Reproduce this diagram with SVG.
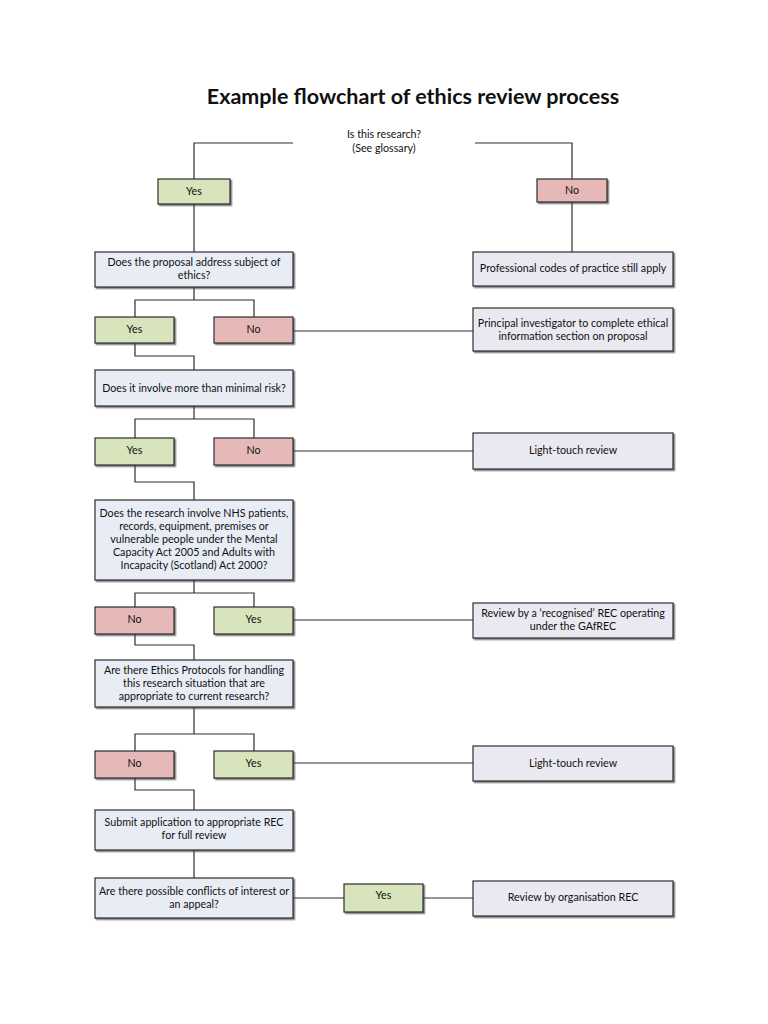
<svg xmlns="http://www.w3.org/2000/svg" width="768" height="1024" viewBox="0 0 768 1024">
<defs>
<filter id="sh" x="-10%" y="-10%" width="130%" height="150%">
<feDropShadow dx="1.5" dy="1.5" stdDeviation="0.6" flood-color="#444" flood-opacity="0.7"/>
</filter>
<style>
rect{stroke:#2e2e2e;stroke-width:1.2;filter:url(#sh)}
.g{fill:#d8e4bc}
.r{fill:#e6b8b7}
.q{fill:#e8edf5}
.o{fill:#eae8f0}
text{font-family:Lato,"Open Sans","Liberation Sans",sans-serif;font-size:10.7px;fill:#111;text-anchor:middle}
.title{font-size:21.5px;font-weight:bold}
#connectors path{fill:none;stroke:#2e2e2e;stroke-width:1.2}
</style>
</defs>
<rect width="768" height="1024" fill="#fff" style="stroke:none;filter:none"/>
<text class="title" x="413" y="104">Example flowchart of ethics review process</text>
<g id="connectors">
<path d="M293 143H194V179"/>
<path d="M475 143H572V179"/>
<path d="M194 204V252"/>
<path d="M572 202V252"/>
<path d="M194 287V300M135 317V300H254V317"/>
<path d="M293 331H473"/>
<path d="M135 343V356H194V370"/>
<path d="M194 406V419M135 438V419H254V438"/>
<path d="M293 451H473"/>
<path d="M135 465V482H194V500"/>
<path d="M194 580V593M135 607V593H254V607"/>
<path d="M293 620H473"/>
<path d="M135 634V645H194V660"/>
<path d="M194 707V734M135 751V734H254V751"/>
<path d="M293 763H473"/>
<path d="M135 778V790H194V810"/>
<path d="M194 850V878"/>
<path d="M293 898H344"/>
<path d="M423 898H473"/>
</g>
<g id="q0"><text x="384" y="138">Is this research?</text><text x="384" y="152">(See glossary)</text></g>
<g id="yes1"><rect class="g" x="158" y="179" width="72" height="25"/><text x="194" y="195">Yes</text></g>
<g id="no1"><rect class="r" x="537" y="179" width="70" height="23"/><text x="572" y="194">No</text></g>
<g id="q1"><rect class="q" x="95" y="252" width="198" height="35"/><text x="194" y="266">Does the proposal address subject of</text><text x="194" y="279">ethics?</text></g>
<g id="codes"><rect class="o" x="473" y="252" width="200" height="34"/><text x="573" y="272">Professional codes of practice still apply</text></g>
<g id="yes2"><rect class="g" x="95" y="317" width="79" height="26"/><text x="134.5" y="333">Yes</text></g>
<g id="no2"><rect class="r" x="214" y="317" width="79" height="26"/><text x="253.5" y="333">No</text></g>
<g id="pi"><rect class="o" x="473" y="308" width="200" height="43"/><text x="573" y="327">Principal investigator to complete ethical</text><text x="573" y="340">information section on proposal</text></g>
<g id="q2"><rect class="q" x="95" y="370" width="198" height="36"/><text x="194" y="392">Does it involve more than minimal risk?</text></g>
<g id="yes3"><rect class="g" x="95" y="438" width="79" height="27"/><text x="134.5" y="454">Yes</text></g>
<g id="no3"><rect class="r" x="214" y="438" width="79" height="27"/><text x="253.5" y="454">No</text></g>
<g id="light1"><rect class="o" x="473" y="433" width="200" height="36"/><text x="573" y="454">Light-touch review</text></g>
<g id="q3"><rect class="q" x="95" y="500" width="198" height="80"/>
<text x="194" y="517">Does the research involve NHS patients,</text>
<text x="194" y="530">records, equipment, premises or</text>
<text x="194" y="543">vulnerable people under the Mental</text>
<text x="194" y="556">Capacity Act 2005 and Adults with</text>
<text x="194" y="569">Incapacity (Scotland) Act 2000?</text></g>
<g id="no4"><rect class="r" x="95" y="607" width="79" height="27"/><text x="134.5" y="623">No</text></g>
<g id="yes4"><rect class="g" x="214" y="607" width="79" height="27"/><text x="253.5" y="623">Yes</text></g>
<g id="rec"><rect class="o" x="473" y="603" width="200" height="35"/><text x="573" y="617">Review by a ‘recognised’ REC operating</text><text x="573" y="630">under the GAfREC</text></g>
<g id="q4"><rect class="q" x="95" y="660" width="198" height="47"/>
<text x="194" y="674">Are there Ethics Protocols for handling</text>
<text x="194" y="687">this research situation that are</text>
<text x="194" y="700">appropriate to current research?</text></g>
<g id="no5"><rect class="r" x="95" y="751" width="79" height="27"/><text x="134.5" y="767">No</text></g>
<g id="yes5"><rect class="g" x="214" y="751" width="79" height="27"/><text x="253.5" y="767">Yes</text></g>
<g id="light2"><rect class="o" x="473" y="746" width="200" height="35"/><text x="573" y="767">Light-touch review</text></g>
<g id="submit"><rect class="q" x="95" y="810" width="198" height="40"/><text x="194" y="826">Submit application to appropriate REC</text><text x="194" y="839">for full review</text></g>
<g id="q5"><rect class="q" x="95" y="878" width="198" height="40"/><text x="194" y="895">Are there possible conflicts of interest or</text><text x="194" y="908">an appeal?</text></g>
<g id="yes6"><rect class="g" x="344" y="884" width="79" height="28"/><text x="383.5" y="899">Yes</text></g>
<g id="orgrec"><rect class="o" x="473" y="881" width="200" height="35"/><text x="573" y="901">Review by organisation REC</text></g>
</svg>
